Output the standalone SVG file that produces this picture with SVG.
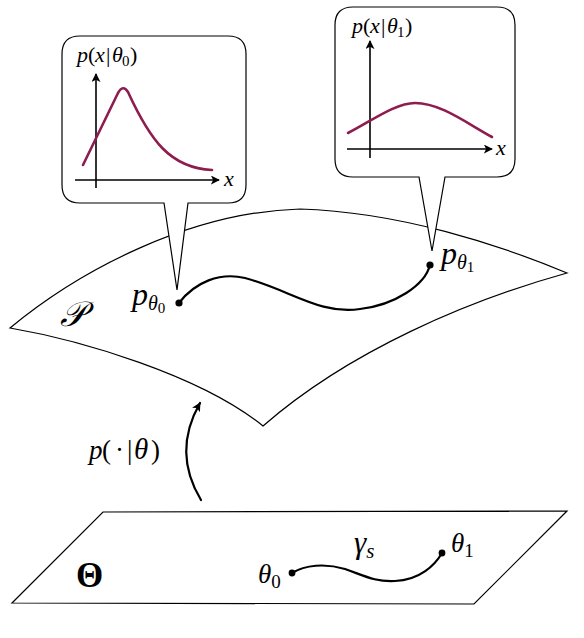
<svg xmlns="http://www.w3.org/2000/svg" width="584" height="638" viewBox="0 0 584 638">
<defs>
<style>
.thin{fill:none;stroke:#000;stroke-width:1.2}
.axis{fill:none;stroke:#000;stroke-width:1.6}
.dist{fill:none;stroke:#8e1c4f;stroke-width:2.6;stroke-linecap:round;stroke-linejoin:round}
.path{fill:none;stroke:#000;stroke-width:2.2;stroke-linecap:round}
.box{fill:#fff;stroke:#000;stroke-width:1.2}
text{font-family:'Liberation Serif','Times New Roman',serif;fill:#000}
.m{font-style:italic}
.r{font-style:normal}
</style>
<marker id="ah" viewBox="0 0 10 10" refX="9" refY="5" markerWidth="9" markerHeight="9" markerUnits="userSpaceOnUse" orient="auto">
<path d="M0,0 L10,5 L0,10 L2.5,5 Z" fill="#000"/>
</marker>
</defs>
<rect width="584" height="638" fill="#fff"/>

<g id="theta-plane">
<polygon points="103,512 567,511 474,604 12,603" class="thin" stroke-width="1.4"/>
<text class="r" x="76" y="587" font-size="35" font-weight="bold">Θ</text>
</g>

<g id="manifold">
<path class="thin" d="M10,328 C80,270 190,212 300,209 C400,212 500,245 567,273 C470,300 350,350 263,426 C200,375 80,340 10,328 Z"/>
<text class="m" x="60" y="326" font-size="35">𝒫</text>
</g>

<g id="callout-left">
<path class="box" d="M80,36 H228 Q246,36 246,54 V185 Q246,203 228,203 H188 L177,290 L164,203 H80 Q62,203 62,185 V54 Q62,36 80,36 Z"/>
<line class="axis" x1="96" y1="188" x2="96" y2="74" marker-end="url(#ah)"/>
<line class="axis" x1="75" y1="180" x2="219" y2="180" marker-end="url(#ah)"/>
<path class="dist" d="M83,165 L118,93 Q123,84 128,92 C150,140 170,168 212,170"/>
<text class="m" x="224" y="186" font-size="22">x</text>
<text class="m" y="62" font-size="22"><tspan x="77">p</tspan><tspan class="r" x="88">(</tspan><tspan x="95">x</tspan><tspan class="r" x="106">|</tspan><tspan x="112">θ</tspan><tspan class="r" x="122" dy="4" font-size="15">0</tspan><tspan class="r" x="130" dy="-4">)</tspan></text>
</g>

<g id="callout-right">
<path class="box" d="M353,7 H497 Q515,7 515,25 V159 Q515,177 497,177 H445 L432,251 L419,177 H353 Q335,177 335,159 V25 Q335,7 353,7 Z"/>
<line class="axis" x1="370" y1="158" x2="370" y2="41" marker-end="url(#ah)"/>
<line class="axis" x1="347" y1="149" x2="492" y2="149" marker-end="url(#ah)"/>
<path class="dist" d="M348,133 C370,122 395,103 415,103 C440,103 465,122 492,137"/>
<text class="m" x="496" y="155" font-size="22">x</text>
<text class="m" y="33" font-size="22"><tspan x="352">p</tspan><tspan class="r" x="363">(</tspan><tspan x="370">x</tspan><tspan class="r" x="381">|</tspan><tspan x="387">θ</tspan><tspan class="r" x="397" dy="4" font-size="15">1</tspan><tspan class="r" x="405" dy="-4">)</tspan></text>
</g>

<g id="p-theta0">
<circle cx="179" cy="303" r="3.6" fill="#000"/>
<text class="m" x="132" y="305" font-size="32">p<tspan font-size="20" dy="5">θ</tspan><tspan class="r" font-size="15" dy="3">0</tspan></text>
</g>

<g id="p-theta1">
<circle cx="430" cy="265" r="3.6" fill="#000"/>
<text class="m" x="441" y="264" font-size="32">p<tspan font-size="20" dy="5">θ</tspan><tspan class="r" font-size="15" dy="3">1</tspan></text>
</g>

<g id="theta0">
<circle cx="292" cy="573" r="3.4" fill="#000"/>
<text class="m" x="258" y="583" font-size="27">θ<tspan class="r" font-size="19" dy="5">0</tspan></text>
</g>

<g id="theta1">
<circle cx="442" cy="553" r="3.4" fill="#000"/>
<text class="m" x="451" y="552" font-size="27">θ<tspan class="r" font-size="19" dy="5">1</tspan></text>
</g>

<g id="connectors">
<path class="path" d="M179,303 C195,282 220,272 245,278 C290,290 320,315 360,309 C395,305 425,285 430,265"/>
<path class="path" stroke-width="2" d="M292,573 C305,565 325,563 345,569 C365,576 375,582 395,581 C420,580 435,565 442,553"/>
<path class="path" stroke-width="1.8" d="M201,500 Q172,452 200,403" marker-end="url(#ah)"/>
<text class="m" y="459" font-size="27"><tspan x="89">p</tspan><tspan class="r" x="102">(</tspan><tspan class="r" x="115">·</tspan><tspan class="r" x="127">|</tspan><tspan x="134" font-size="29">θ</tspan><tspan class="r" x="151">)</tspan></text>
<text class="m" x="354" y="553" font-size="31">γ<tspan font-size="21" dy="5">s</tspan></text>
</g>
</svg>
